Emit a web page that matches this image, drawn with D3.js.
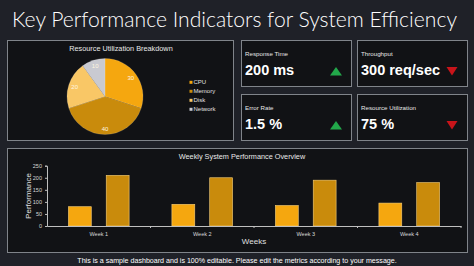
<!DOCTYPE html>
<html><head><meta charset="utf-8">
<script src="https://cdn.jsdelivr.net/npm/d3@7"></script>
<style>html,body{margin:0;padding:0;background:#1f2128;}svg{display:block;}</style>
</head><body><svg id="c" width="474" height="266"></svg>
<script>
// ---- data ----
const title = "Key Performance Indicators for System Efficiency";
const pieCategories = ["CPU", "Memory", "Disk", "Network"];
const pieValues = [30, 40, 20, 10];
const kpiLabels = ["Response Time", "Throughput", "Error Rate", "Resource Utilization"];
const kpiValues = ["200 ms", "300 req/sec", "1.5 %", "75 %"];
const kpiTrends = ["up", "down", "up", "down"];
const weeks = ["Week 1", "Week 2", "Week 3", "Week 4"];
const seriesA = [80, 90, 85, 95];
const seriesB = [210, 200, 190, 180];
const yTicks = [0, 50, 100, 150, 200, 250];
const footer = "This is a sample dashboard and is 100% editable. Please edit the metrics according to your message.";

const svg = d3.select("#c");
const font = "Liberation Sans, Arial, sans-serif";
const panelFill = "#111215", panelStroke = "#80848a";

svg.append("rect").attr("width",474).attr("height",266).attr("fill","#1f2128");

svg.append("text").attr("x",12).attr("y",27).attr("fill","#ffffff")
  .attr("font-family","Lato, sans-serif").attr("font-size",21).attr("font-weight",300)
  .attr("textLength",445).attr("lengthAdjust","spacingAndGlyphs").text(title);

function panel(x,y,w,h){
  svg.append("rect").attr("x",x+0.5).attr("y",y+0.5).attr("width",w).attr("height",h)
    .attr("fill",panelFill).attr("stroke",panelStroke).attr("stroke-width",1);
}

// ---- pie panel ----
panel(7,40,226,100);
svg.append("text").attr("x",121).attr("y",51).attr("text-anchor","middle").attr("fill","#e8e8e8")
  .attr("font-family",font).attr("font-size",7.3).text("Resource Utilization Breakdown");
const pieColors = d3.scaleOrdinal().domain(pieCategories).range(["#f5a70f","#c98b0c","#f9c766","#c9cad1"]);
const pie = d3.pie().sort(null).value(d=>d.v);
const arcs = pie(pieCategories.map((c,i)=>({c, v:pieValues[i]})));
const r = 38;
const arc = d3.arc().innerRadius(0).outerRadius(r);
const labelArc = d3.arc().innerRadius(r*0.84).outerRadius(r*0.84);
const pg = svg.append("g").attr("transform","translate(105,96.5)");
pg.selectAll("path").data(arcs).join("path").attr("d",arc).attr("fill",d=>pieColors(d.data.c))
  .attr("stroke","#ffffff").attr("stroke-opacity",0.35).attr("stroke-width",0.4);
pg.selectAll("text").data(arcs).join("text")
  .attr("transform",d=>`translate(${labelArc.centroid(d)})`).attr("text-anchor","middle").attr("dy","0.35em")
  .attr("fill","#fff5e0").attr("font-family",font).attr("font-size",6).text(d=>d.data.v);
const lg = svg.append("g");
pieCategories.forEach((c,i)=>{
  const y = 82.3 + i*9;
  lg.append("rect").attr("x",189.5).attr("y",y-1.5).attr("width",3).attr("height",3).attr("fill",pieColors(c));
  lg.append("text").attr("x",193.5).attr("y",y).attr("dy","0.35em").attr("fill","#e0e0e0")
    .attr("font-family",font).attr("font-size",6).text(c);
});

// ---- KPI cards ----
const cardPos = [[241,40],[357,40],[241,94],[357,94]];
kpiLabels.forEach((lab,i)=>{
  const [x,y] = cardPos[i];
  panel(x,y,110,46);
  svg.append("text").attr("x",x+4).attr("y",y+16).attr("fill","#e6e6e6")
    .attr("font-family",font).attr("font-size",6.2).text(lab);
  svg.append("text").attr("x",x+4).attr("y",y+35).attr("fill","#ffffff").attr("font-weight","bold")
    .attr("font-family",font).attr("font-size",14.5).text(kpiValues[i]);
  const tx = x+95, ty = y+27;
  const up = kpiTrends[i]==="up";
  const pts = up ? [[tx-6,ty+8.5],[tx+6,ty+8.5],[tx,ty]] : [[tx-5.5,ty],[tx+5.5,ty],[tx,ty+8.5]];
  svg.append("path").attr("d",d3.line()(pts)+"Z").attr("fill",up?"#22a84a":"#c8141a");
});

// ---- bar chart ----
panel(7,148,460,104);
svg.append("text").attr("x",242).attr("y",159).attr("text-anchor","middle").attr("fill","#e8e8e8")
  .attr("font-family",font).attr("font-size",7.3).text("Weekly System Performance Overview");
const x0 = d3.scaleBand().domain(weeks).range([47,461]).padding(0);
const x1 = d3.scaleBand().domain(["A","B"]).range([0,x0.bandwidth()]).paddingInner(0.395).paddingOuter(0.566);
const y = d3.scaleLinear().domain([0,250]).range([226,165.7]);
const bg = svg.append("g");
const barData = weeks.map((w,i)=>({w, vals:[{k:"A",v:seriesA[i]},{k:"B",v:seriesB[i]}]}));
const barColor = {A:"#f5a70f", B:"#c98b0c"};
bg.selectAll("g").data(barData).join("g").attr("transform",d=>`translate(${x0(d.w)},0)`)
  .selectAll("rect").data(d=>d.vals).join("rect")
  .attr("x",d=>x1(d.k)).attr("width",x1.bandwidth())
  .attr("y",d=>y(d.v)).attr("height",d=>y(0)-y(d.v))
  .attr("fill",d=>barColor[d.k]).attr("stroke","#f7cf7a").attr("stroke-width",0.6);

const yAxis = svg.append("g").attr("transform","translate(47,0)")
  .call(d3.axisLeft(y).tickValues(yTicks).tickSize(2).tickPadding(3));
yAxis.selectAll("text").attr("fill","#d8d8d8").attr("font-family",font).attr("font-size",5.5);
yAxis.selectAll("line,path").attr("stroke","#bfbfbf");
const xAxis = svg.append("g").attr("transform","translate(0,226)")
  .call(d3.axisBottom(x0).tickSize(0).tickPadding(6));
xAxis.selectAll("text").attr("fill","#d8d8d8").attr("font-family",font).attr("font-size",5.5);
xAxis.select("path").attr("stroke","#bfbfbf");
// boundary ticks
svg.append("g").selectAll("line").data(weeks.slice(1).concat(["end"])).join("line")
  .attr("x1",(d,i)=> i<3 ? x0(d) : x0(weeks[3])+x0.bandwidth()).attr("x2",(d,i)=> i<3 ? x0(d) : x0(weeks[3])+x0.bandwidth())
  .attr("y1",226).attr("y2",228).attr("stroke","#bfbfbf");
svg.append("text").attr("x",254).attr("y",244).attr("text-anchor","middle").attr("fill","#e0e0e0")
  .attr("font-family",font).attr("font-size",8).text("Weeks");
svg.append("text").attr("transform","translate(31,196) rotate(-90)").attr("text-anchor","middle").attr("fill","#e0e0e0")
  .attr("font-family",font).attr("font-size",8).text("Performance");

svg.append("text").attr("x",237).attr("y",263).attr("text-anchor","middle").attr("fill","#ffffff")
  .attr("font-family",font).attr("font-size",7.1).text(footer);
</script></body></html>
